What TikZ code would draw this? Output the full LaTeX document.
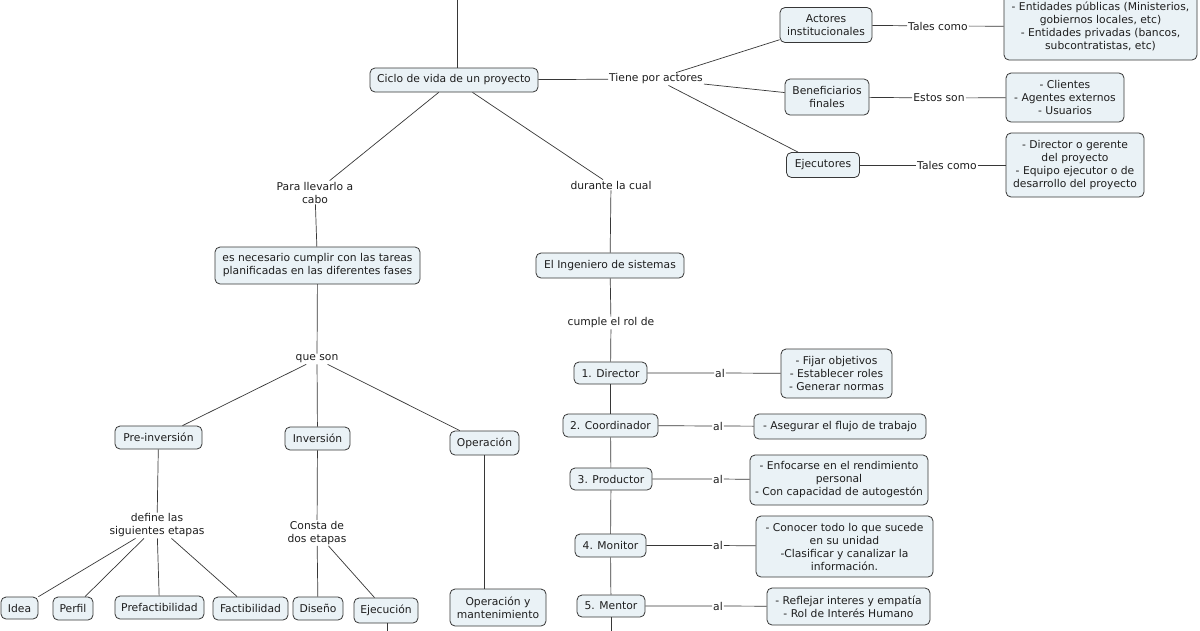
\documentclass[tikz,border=0pt]{standalone}
\usepackage{fontspec}
\setmainfont{DejaVu Sans}
\definecolor{boxfill}{RGB}{234,242,246}
\definecolor{edge}{RGB}{55,55,55}
\definecolor{ink}{RGB}{30,30,30}
\tikzset{
  cbox/.style={draw=edge, line width=0.8pt, rounded corners=5pt, fill=boxfill, align=center, inner sep=0pt, text=ink},
  sz/.style 2 args={minimum width=#1pt, minimum height=#2pt},
  lbl/.style={align=center, inner sep=1pt, text=ink},
  conn/.style={draw=edge, line width=0.7pt},
}
\begin{document}
\begin{tikzpicture}[x=1pt,y=-1pt, font=\fontsize{10.75}{13}\selectfont]
\useasboundingbox (0,0) rectangle (1200,630);
\fill[white] (0,0) rectangle (1200,630);
\clip (0,0) rectangle (1200,630);

% boxes
\node[cbox, sz={168}{24}] (ciclo) at (454,80) {Ciclo de vida de un proyecto};
\node[cbox, sz={92}{35}] (actores) at (826,25) {Actores\\institucionales};
\node[cbox, sz={193}{67}] (entidades) at (1100.5,26.5) {- Entidades públicas (Ministerios,\\gobiernos locales, etc)\\- Entidades privadas (bancos,\\subcontratistas, etc)};
\node[cbox, sz={84}{36}] (benef) at (827,97) {Beneficiarios\\finales};
\node[cbox, sz={118}{49}] (clientes) at (1065,97.5) {- Clientes\\- Agentes externos\\- Usuarios};
\node[cbox, sz={73}{25}] (ejecutores) at (823,165) {Ejecutores};
\node[cbox, sz={138}{64}] (directorg) at (1075,165) {- Director o gerente\\del proyecto\\- Equipo ejecutor o de\\desarrollo del proyecto};
\node[cbox, sz={205}{37}] (necesario) at (317.5,265.5) {es necesario cumplir con las tareas\\planificadas en las diferentes fases};
\node[cbox, sz={148}{25}] (ingeniero) at (610,265.5) {El Ingeniero de sistemas};
\node[cbox, sz={87}{23}] (preinv) at (158.5,437.5) {Pre-inversión};
\node[cbox, sz={65}{23}] (inversion) at (317.5,438.5) {Inversión};
\node[cbox, sz={69}{24}] (operacion) at (484.5,443) {Operación};
\node[cbox, sz={37}{22}] (idea) at (19.5,608) {Idea};
\node[cbox, sz={40}{23}] (perfil) at (73,608.5) {Perfil};
\node[cbox, sz={89}{23}] (prefact) at (159.5,607.5) {Prefactibilidad};
\node[cbox, sz={75}{23}] (fact) at (250.5,608.5) {Factibilidad};
\node[cbox, sz={50}{23}] (diseno) at (318,608.5) {Diseño};
\node[cbox, sz={64}{25}] (ejecucion) at (386,610.5) {Ejecución};
\node[cbox, sz={96}{37}] (opm) at (498,607.5) {Operación y\\mantenimiento};
\node[cbox, sz={73}{22}] (director) at (610.5,373) {1. Director};
\node[cbox, sz={111}{49}] (fijar) at (836.5,373.5) {- Fijar objetivos\\- Establecer roles\\- Generar normas};
\node[cbox, sz={95}{23}] (coord) at (610.5,425.5) {2. Coordinador};
\node[cbox, sz={172}{25}] (asegurar) at (840,426.5) {- Asegurar el flujo de trabajo};
\node[cbox, sz={82}{22}] (productor) at (611,479) {3. Productor};
\node[cbox, sz={178}{50}] (enfocarse) at (839,480) {- Enfocarse en el rendimiento\\personal\\- Con capacidad de autogestón};
\node[cbox, sz={71}{23}] (monitor) at (610.5,545.5) {4. Monitor};
\node[cbox, sz={177}{61}] (conocer) at (844.5,546.5) {- Conocer todo lo que sucede\\en su unidad\\-Clasificar y canalizar la\\información.};
\node[cbox, sz={68}{22}] (mentor) at (611,606) {5. Mentor};
\node[cbox, sz={163}{37}] (reflejar) at (848.5,606.5) {- Reflejar interes y empatía\\- Rol de Interés Humano};

% linking phrases
\node[lbl] (tiene) at (656,79) {Tiene por actores};
\node[lbl] (tales1) at (938,26) {Tales como};
\node[lbl] (estos) at (939,98) {Estos son};
\node[lbl] (tales2) at (947,165) {Tales como};
\node[lbl] (para) at (315,192.5) {Para llevarlo a\\cabo};
\node[lbl] (durante) at (611,185) {durante la cual};
\node[lbl] (cumple) at (611,323) {cumple el rol de};
\node[lbl] (queson) at (317,359) {que son};
\node[lbl] (define) at (157,525.5) {define las\\siguientes etapas};
\node[lbl] (consta) at (317,533) {Consta de\\dos etapas};
\node[lbl] (al1) at (720,373) {al};
\node[lbl] (al2) at (718,426) {al};
\node[lbl] (al3) at (718,479) {al};
\node[lbl] (al4) at (718,545.5) {al};
\node[lbl] (al5) at (718,606) {al};

% free ends beyond the frame
\coordinate (topend) at (457,-5);
\coordinate (ejend) at (387,640);
\coordinate (mend) at (611,640);

% connectors
\draw[conn] (topend) -- (topend |- ciclo.north);
\draw[conn] (ciclo) -- (tiene);
\draw[conn] (tiene) -- (actores);
\draw[conn] (tiene) -- (benef);
\draw[conn] (tiene) -- (ejecutores);
\draw[conn] (actores) -- (tales1) -- (entidades);
\draw[conn] (benef) -- (estos) -- (clientes);
\draw[conn] (ejecutores) -- (tales2) -- (directorg);
\draw[conn] (ciclo) -- (para);
\draw[conn] (ciclo) -- (durante);
\draw[conn] (para) -- (necesario);
\draw[conn] (necesario) -- (queson);
\draw[conn] (queson) -- (preinv);
\draw[conn] (queson) -- (inversion);
\draw[conn] (queson) -- (operacion);
\draw[conn] (preinv) -- (define);
\draw[conn] (define) -- (idea);
\draw[conn] (define) -- (perfil);
\draw[conn] (define) -- (prefact);
\draw[conn] (define) -- (fact);
\draw[conn] (inversion) -- (consta);
\draw[conn] (consta) -- (diseno);
\draw[conn] (consta) -- (ejecucion);
\draw[conn] (ejend |- ejecucion.south) -- (ejend);
\draw[conn] (operacion.south) -- (operacion.south |- opm.north);
\draw[conn] (durante) -- (ingeniero);
\draw[conn] (ingeniero) -- (cumple);
\draw[conn] (cumple) -- (director);
\draw[conn] (director) -- (coord);
\draw[conn] (coord) -- (productor);
\draw[conn] (productor) -- (monitor);
\draw[conn] (monitor) -- (mentor);
\draw[conn] (mentor) -- (mend);
\draw[conn] (director) -- (al1) -- (fijar);
\draw[conn] (coord) -- (al2) -- (asegurar);
\draw[conn] (productor) -- (al3) -- (enfocarse);
\draw[conn] (monitor) -- (al4) -- (conocer);
\draw[conn] (mentor) -- (al5) -- (reflejar);
\end{tikzpicture}
\end{document}
